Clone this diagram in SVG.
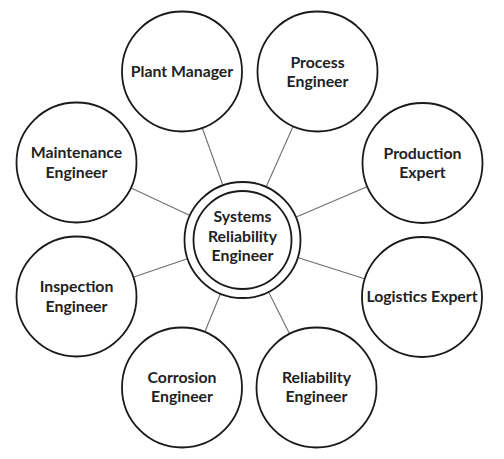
<svg xmlns="http://www.w3.org/2000/svg" width="504" height="459" viewBox="0 0 504 459">
<style>
.node{fill:#fff;stroke:#1a1a1a;stroke-width:1.8}
.lbl{font-family:Lato,"Liberation Sans",sans-serif;font-weight:bold;font-size:15.8px;fill:#222;text-anchor:middle}
.conn line{stroke:#6e6e6e;stroke-width:1.1}
</style>
<rect width="504" height="459" fill="#fff"/>
<g id="connectors" class="conn">
<line x1="242.5" y1="240" x2="182" y2="71.5"/>
<line x1="242.5" y1="240" x2="317.5" y2="71.5"/>
<line x1="242.5" y1="240" x2="76.5" y2="162.5"/>
<line x1="242.5" y1="240" x2="422.5" y2="163"/>
<line x1="242.5" y1="240" x2="76.5" y2="296.5"/>
<line x1="242.5" y1="240" x2="422" y2="297"/>
<line x1="242.5" y1="240" x2="182" y2="387.5"/>
<line x1="242.5" y1="240" x2="316.5" y2="387.5"/>
</g>
<g id="plant-manager">
<circle class="node" cx="182" cy="71.5" r="60"/>
<text class="lbl" x="182" y="77">Plant Manager</text>
</g>
<g id="process-engineer">
<circle class="node" cx="317.5" cy="71.5" r="60"/>
<text class="lbl" x="317.5" y="67.5">Process</text>
<text class="lbl" x="317.5" y="86.5">Engineer</text>
</g>
<g id="maintenance-engineer">
<circle class="node" cx="76.5" cy="162.5" r="60"/>
<text class="lbl" x="76.5" y="158">Maintenance</text>
<text class="lbl" x="76.5" y="177.5">Engineer</text>
</g>
<g id="production-expert">
<circle class="node" cx="422.5" cy="163" r="60"/>
<text class="lbl" x="422.5" y="158.5">Production</text>
<text class="lbl" x="422.5" y="178">Expert</text>
</g>
<g id="inspection-engineer">
<circle class="node" cx="76.5" cy="296.5" r="60"/>
<text class="lbl" x="76.5" y="292">Inspection</text>
<text class="lbl" x="76.5" y="311.5">Engineer</text>
</g>
<g id="logistics-expert">
<circle class="node" cx="422" cy="297" r="60"/>
<text class="lbl" x="422" y="302">Logistics Expert</text>
</g>
<g id="corrosion-engineer">
<circle class="node" cx="182" cy="387.5" r="60"/>
<text class="lbl" x="182" y="383">Corrosion</text>
<text class="lbl" x="182" y="402">Engineer</text>
</g>
<g id="reliability-engineer">
<circle class="node" cx="316.5" cy="387.5" r="60"/>
<text class="lbl" x="316.5" y="383">Reliability</text>
<text class="lbl" x="316.5" y="402">Engineer</text>
</g>
<g id="systems-reliability-engineer">
<circle class="node" cx="242.5" cy="240" r="58"/>
<circle class="node" cx="242.5" cy="240" r="49"/>
<text class="lbl" x="242.5" y="222">Systems</text>
<text class="lbl" x="242.5" y="241.5">Reliability</text>
<text class="lbl" x="242.5" y="261">Engineer</text>
</g>
</svg>
